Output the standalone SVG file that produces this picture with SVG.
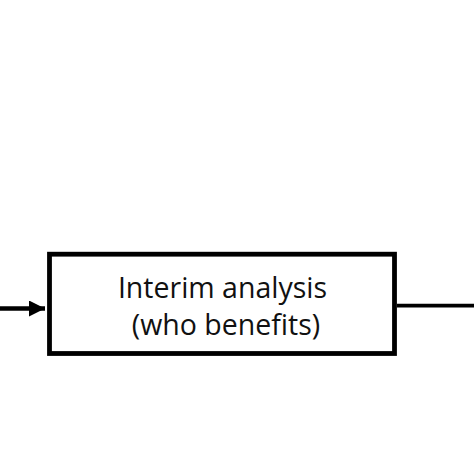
<svg xmlns="http://www.w3.org/2000/svg" width="474" height="474" viewBox="0 0 474 474">
<defs>
<style>
.box{fill:#fff;stroke:#000;stroke-width:4.8}
.conn{stroke:#000;fill:none}
.lbl{font-family:"Open Sans","Liberation Sans",Arial,sans-serif;font-size:28.5px;fill:#111;text-anchor:middle}
</style>
<marker id="ah" markerUnits="userSpaceOnUse" markerWidth="17" markerHeight="16" refX="16" refY="8" orient="auto">
<path d="M0,0 L16,8 L0,16 Z" fill="#000"/>
</marker>
</defs>
<rect width="474" height="474" fill="#fff"/>
<g id="connectors">
<line class="conn" x1="0" y1="308.5" x2="45" y2="308.5" stroke-width="4.5" marker-end="url(#ah)"/>
<line class="conn" x1="397" y1="305.7" x2="474" y2="305.7" stroke-width="3.8"/>
</g>
<g id="interim">
<rect class="box" x="49.5" y="254.2" width="345" height="99.3"/>
<text class="lbl" x="222.5" y="297.5">Interim analysis</text>
<text class="lbl" x="226" y="334.5">(who benefits)</text>
</g>
</svg>
